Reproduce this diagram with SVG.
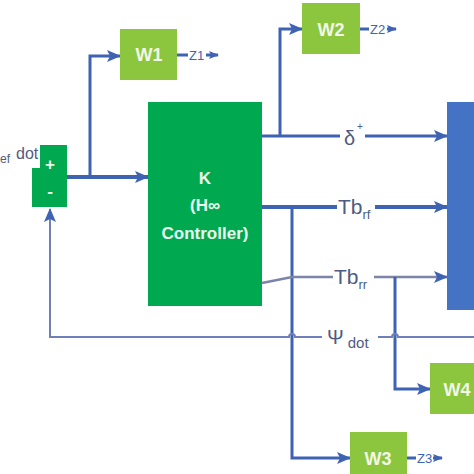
<svg xmlns="http://www.w3.org/2000/svg" width="474" height="474" viewBox="0 0 474 474">
<defs>
<marker id="ah" markerUnits="userSpaceOnUse" markerWidth="14" markerHeight="14" viewBox="0 0 14 14" refX="13" refY="7" orient="auto">
<path d="M0,1 L14,7 L0,13 L3,7 Z" fill="#3F63B3"/>
</marker>
<marker id="ahs" markerUnits="userSpaceOnUse" markerWidth="10" markerHeight="10" viewBox="0 0 10 10" refX="9" refY="5" orient="auto">
<path d="M0,1 L10,5 L0,9 L2,5 Z" fill="#3F63B3"/>
</marker>
</defs>
<style>
.blk{fill:#00A94F}
.w{fill:#8CC63F}
.wt{font-family:"Liberation Sans",Arial,sans-serif;font-size:18px;font-weight:bold;fill:#F2F7E6;text-anchor:middle}
.kt{font-family:"Liberation Sans",Arial,sans-serif;font-size:17px;font-weight:bold;fill:#EAF7EE;text-anchor:middle}
.lab{font-family:"Liberation Sans",Arial,sans-serif;fill:#4F5B80}
.z{font-family:"Liberation Sans",Arial,sans-serif;font-size:13px;fill:#3F63B3}
.th{fill:none;stroke:#3F63B3;stroke-width:4}
.md{fill:none;stroke:#3F63B3;stroke-width:3}
.tn{fill:none;stroke:#7C84A8;stroke-width:2.5}
.fb{fill:none;stroke:#6F80B8;stroke-width:2}
</style>
<rect width="474" height="474" fill="#FFFFFF"/>

<g id="connectors">
<path class="th" d="M67,177 H148" marker-end="url(#ah)"/>
<path class="md" d="M90,177 V56 H120" marker-end="url(#ah)"/>
<path class="md" d="M177,55 H188"/>
<path class="md" d="M206,55 H218" marker-end="url(#ahs)"/>
<path class="md" d="M262,136 H340 M365,136 H447" marker-end="url(#ah)"/>
<path class="md" d="M280,136 V29 H302" marker-end="url(#ah)"/>
<path class="md" d="M360,29 H369"/>
<path class="md" d="M387,29 H396" marker-end="url(#ahs)"/>
<path class="th" d="M262,207 H337 M375,207 H447" marker-end="url(#ah)"/>
<path class="md" d="M292,207 V458 H350" marker-end="url(#ah)"/>
<path class="tn" d="M262,283 L292,277 H333 M374,277 H447"/>
<path d="M440,277 H447" marker-end="url(#ah)" stroke="#7C84A8" stroke-width="2.5"/>
<path class="md" d="M395,277 V389 H430" marker-end="url(#ah)"/>
<path class="fb" d="M474,337 H398 A3,3 0 0 0 392,337 H378 M322,337 H295 A3,3 0 0 0 289,337 H50 V209" marker-end="url(#ah)"/>
<path class="md" d="M407,458 H416"/>
<path class="md" d="M433,458 H442" marker-end="url(#ahs)"/>
</g>

<g id="sum">
<path class="blk" d="M40,145 H67 V207 H32 V168 H40 Z"/>
<text x="50" y="170" class="kt" font-size="16">+</text>
<text x="50" y="197" class="kt">-</text>
<text class="lab" x="0" y="163" font-size="12">ef</text>
<text class="lab" x="16" y="159" font-size="16">dot</text>
</g>

<g id="W1">
<rect class="w" x="120" y="29" width="57" height="51"/>
<text class="wt" x="149" y="61">W1</text>
<text class="z" x="189" y="60">Z1</text>
</g>

<g id="K">
<rect class="blk" x="148" y="102" width="114" height="204"/>
<text class="kt" x="205" y="184">K</text>
<text class="kt" x="205" y="211">(H∞</text>
<text class="kt" x="205" y="239">Controller)</text>
</g>

<g id="W2">
<rect class="w" x="302" y="3" width="58" height="51"/>
<text class="wt" x="331" y="36">W2</text>
<text class="z" x="370" y="34">Z2</text>
</g>

<g id="plant">
<rect x="447" y="102" width="30" height="208" fill="#4472C4"/>
</g>

<g id="W3">
<rect class="w" x="350" y="432" width="57" height="45"/>
<text class="wt" x="378" y="465">W3</text>
<text class="z" x="417" y="463">Z3</text>
</g>

<g id="W4">
<rect class="w" x="430" y="363" width="47" height="51"/>
<text class="wt" x="457" y="396">W4</text>
</g>

<g id="labels">
<text class="lab" x="344" y="145" font-size="20">δ</text>
<text class="lab" x="357" y="130" font-size="10">+</text>
<text class="lab" x="338" y="214" font-size="21">Tb<tspan font-size="13" dy="5">rf</tspan></text>
<text class="lab" x="334" y="284" font-size="21">Tb<tspan font-size="13" dy="5">rr</tspan></text>
<text class="lab" x="327" y="344" font-size="20">Ψ<tspan font-size="15" dx="4" dy="4">dot</tspan></text>
</g>
</svg>
